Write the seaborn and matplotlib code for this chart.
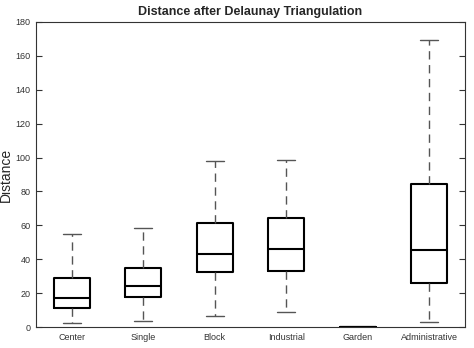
import numpy as np
import pandas as pd
import matplotlib
matplotlib.use("Agg")
import matplotlib.pyplot as plt
import seaborn as sns

categories = ["Center", "Single", "Block", "Industrial", "Garden", "Administrative"]
# five-number summaries: min, Q1, median, Q3, max
center = [2.2, 11.0, 16.9, 28.7, 54.9]
single = [3.5, 17.9, 24.4, 35.0, 58.4]
block = [6.7, 32.3, 42.9, 61.2, 98.0]
industrial = [8.7, 33.0, 46.2, 64.5, 98.6]
garden = [0.0, 0.0, 0.0, 0.0, 0.0]
administrative = [3.1, 26.0, 45.5, 84.4, 169.6]

series = [center, single, block, industrial, garden, administrative]
df = pd.DataFrame({
    "Category": np.repeat(categories, [len(s) for s in series]),
    "Distance": np.concatenate(series),
})

sns.set_style("white")
plt.rcParams["font.family"] = ["Liberation Sans", "DejaVu Sans"]

fig = plt.figure(figsize=(4.74, 3.48), dpi=100)
ax = fig.add_axes([0.0759, 0.0603, 0.9051, 0.8767])

sns.boxplot(data=df, x="Category", y="Distance", order=categories, ax=ax,
            width=0.5, whis=np.inf, fill=False, linecolor="black", linewidth=1.5,
            whiskerprops=dict(color="#555555", linestyle=(0, (6, 4)), linewidth=1.0),
            capprops=dict(color="#555555", linewidth=1.0),
            medianprops=dict(color="black", linewidth=1.5),
            boxprops=dict(color="black", linewidth=1.5))

ax.set_xlim(-0.5, 5.5)
ax.set_ylim(0, 180)
ax.set_yticks(np.arange(0, 181, 20))
ax.set_xlabel("")
ax.set_ylabel("Distance", fontsize=10, labelpad=2)
ax.set_title("Distance after Delaunay Triangulation", fontsize=9, fontweight="bold", pad=5)
for s in ax.spines.values():
    s.set_visible(True)
    s.set_color("#333333")
    s.set_linewidth(0.8)
ax.tick_params(axis="y", direction="in", left=True, right=True, length=4,
               labelsize=6.5, labelcolor="#333333", color="#333333", pad=4)
ax.tick_params(axis="x", length=0, labelsize=6.5, labelcolor="#333333", pad=4)

fig.savefig("out.png", dpi=100)
